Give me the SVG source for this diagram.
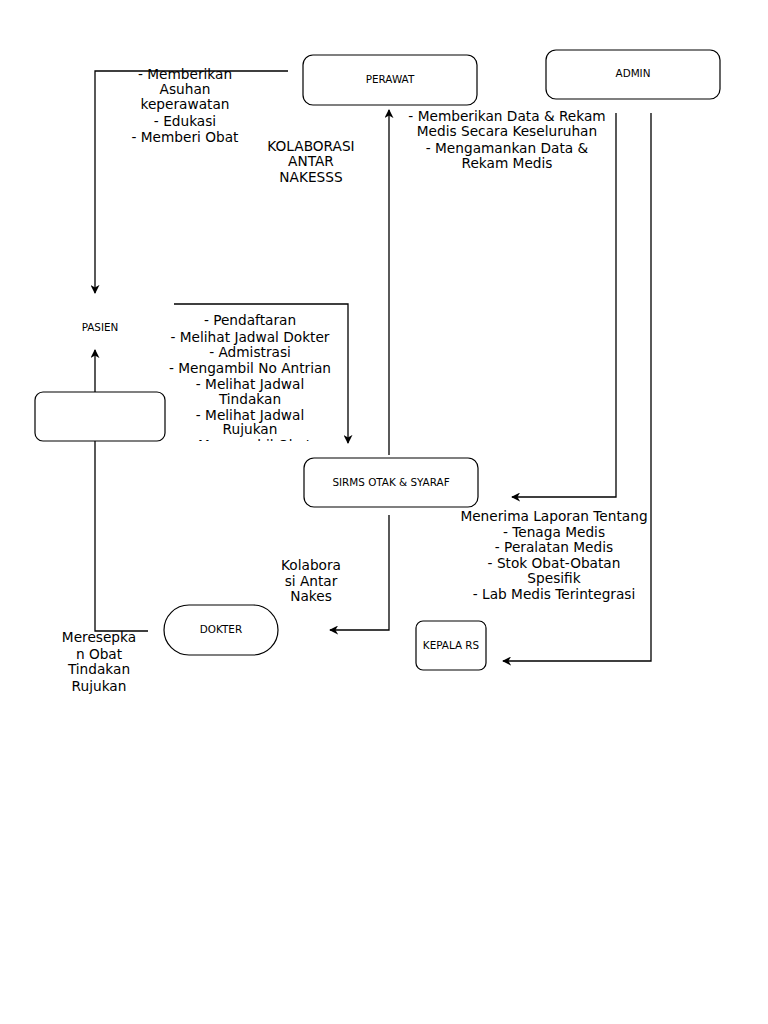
<svg xmlns="http://www.w3.org/2000/svg" width="768" height="1024" viewBox="0 0 768 1024">
<style>
.box{fill:#fff;stroke:#000;stroke-width:1.2}
.lbl{font-family:"DejaVu Sans",sans-serif;font-size:10.4px;text-anchor:middle;fill:#000}
.t{font-family:"DejaVu Sans",sans-serif;font-size:13.7px;text-anchor:middle;fill:#000}
.c{fill:none;stroke:#000;stroke-width:1.3}
</style>
<defs>
<marker id="ah" viewBox="0 0 10 10" refX="9" refY="5" markerWidth="9" markerHeight="9" orient="auto" markerUnits="userSpaceOnUse">
<path d="M0,0 L10,5 L0,10 L3,5 Z" fill="#000"/>
</marker>
<clipPath id="clipP"><rect x="150" y="300" width="200" height="141"/></clipPath>
</defs>
<rect width="768" height="1024" fill="#fff"/>
<g id="connectors">
<path class="c" d="M288,71 H95 V293" marker-end="url(#ah)"/>
<path class="c" d="M174,304 H348 V443" marker-end="url(#ah)"/>
<path class="c" d="M389,455 V110" marker-end="url(#ah)"/>
<path class="c" d="M616,113 V497 H512" marker-end="url(#ah)"/>
<path class="c" d="M651,113 V661 H503" marker-end="url(#ah)"/>
<path class="c" d="M389,515 V630 H330" marker-end="url(#ah)"/>
<path class="c" d="M148,631 H95 V350" marker-end="url(#ah)"/>
</g>
<g id="perawat"><rect class="box" x="303" y="55" width="174" height="50" rx="10"/><text class="lbl" x="390" y="83">PERAWAT</text></g>
<g id="admin"><rect class="box" x="546" y="50" width="174" height="49" rx="10"/><text class="lbl" x="633" y="77">ADMIN</text></g>
<g id="pasien"><text class="lbl" x="100" y="331">PASIEN</text></g>
<g id="blank"><rect class="box" x="35" y="392" width="130" height="49" rx="8"/></g>
<g id="sirms"><rect class="box" x="304" y="458" width="174" height="49" rx="10"/><text class="lbl" x="391" y="486">SIRMS OTAK &amp; SYARAF</text></g>
<g id="dokter"><rect class="box" x="164" y="605" width="114" height="50" rx="25"/><text class="lbl" x="221" y="633">DOKTER</text></g>
<g id="kepala"><rect class="box" x="416" y="621" width="70" height="49" rx="7"/><text class="lbl" x="451" y="649">KEPALA RS</text></g>
<g id="labels">
<text class="t" x="185" y="79">- Memberikan</text>
<text class="t" x="185" y="94">Asuhan</text>
<text class="t" x="185" y="109">keperawatan</text>
<text class="t" x="185" y="126">- Edukasi</text>
<text class="t" x="185" y="142">- Memberi Obat</text>
<text class="t" x="311" y="151">KOLABORASI</text>
<text class="t" x="311" y="166">ANTAR</text>
<text class="t" x="311" y="182">NAKESSS</text>
<text class="t" x="507" y="121">- Memberikan Data &amp; Rekam</text>
<text class="t" x="507" y="136">Medis Secara Keseluruhan</text>
<text class="t" x="507" y="153">- Mengamankan Data &amp;</text>
<text class="t" x="507" y="168">Rekam Medis</text>
<g clip-path="url(#clipP)">
<text class="t" x="250" y="325">- Pendaftaran</text>
<text class="t" x="250" y="342">- Melihat Jadwal Dokter</text>
<text class="t" x="250" y="357">- Admistrasi</text>
<text class="t" x="250" y="373">- Mengambil No Antrian</text>
<text class="t" x="250" y="389">- Melihat Jadwal</text>
<text class="t" x="250" y="404">Tindakan</text>
<text class="t" x="250" y="420">- Melihat Jadwal</text>
<text class="t" x="250" y="434">Rujukan</text>
<text class="t" x="250" y="450">- Mengambil Obat</text>
</g>
<text class="t" x="554" y="521">Menerima Laporan Tentang</text>
<text class="t" x="554" y="537">- Tenaga Medis</text>
<text class="t" x="554" y="552">- Peralatan Medis</text>
<text class="t" x="554" y="568">- Stok Obat-Obatan</text>
<text class="t" x="554" y="583">Spesifik</text>
<text class="t" x="554" y="599">- Lab Medis Terintegrasi</text>
<text class="t" x="311" y="570">Kolabora</text>
<text class="t" x="311" y="586">si Antar</text>
<text class="t" x="311" y="601">Nakes</text>
<text class="t" x="99" y="642">Meresepka</text>
<text class="t" x="99" y="659">n Obat</text>
<text class="t" x="99" y="674">Tindakan</text>
<text class="t" x="99" y="691">Rujukan</text>
</g>
</svg>
